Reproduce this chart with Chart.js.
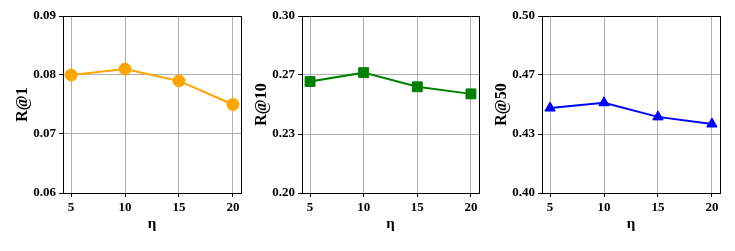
<!DOCTYPE html>
<html>
<head>
<meta charset="utf-8">
<script src="https://cdn.jsdelivr.net/npm/chart.js@4"></script>
<style>
	body { margin: 0; background: #ffffff; }
	#wrap { position: relative; width: 735px; height: 251px; }
	canvas { position: absolute; top: 0; }
</style>
</head>
<body>
<div id="wrap">
	<canvas id="chartR1" width="248" height="251" style="left: 0px;"></canvas>
	<canvas id="chartR10" width="248" height="251" style="left: 239px;"></canvas>
	<canvas id="chartR50" width="248" height="251" style="left: 479px;"></canvas>
</div>
<script>
"use strict";

// values
const etaValues = [5, 10, 15, 20];
const r1Values = [0.080, 0.081, 0.079, 0.075];
const r10Values = [0.263, 0.268, 0.260, 0.256];
const r50Values = [0.448, 0.451, 0.443, 0.439];

// y ticks (4 evenly spaced, labels rounded to 2 decimals)
const r1Ticks = [0.06, 0.07, 0.08, 0.09];
const r10Ticks = [0.20, 0.23333, 0.26667, 0.30];
const r50Ticks = [0.40, 0.43333, 0.46667, 0.50];

const FONT = "'Liberation Serif', 'Times New Roman', serif";

// draws the black box around the plot area like matplotlib spines
const frame = {
	id: "frame",
	afterDraw(chart) {
		const a = chart.chartArea;
		const ctx = chart.ctx;
		ctx.save();
		ctx.strokeStyle = "#000000";
		ctx.lineWidth = 1;
		ctx.strokeRect(Math.round(a.left) + 0.5, Math.round(a.top) + 0.5, Math.round(a.right - a.left), Math.round(a.bottom - a.top));
		ctx.restore();
	},
};

function makeChart(id, values, yTicks, yLabel, color, marker, radius) {
	const ctx = document.getElementById(id);

	new Chart(ctx, {
		type: "line",
		data: {
			datasets: [
				{
					data: etaValues.map(function (x, i) {
						return { x: x, y: values[i] };
					}),
					borderColor: color,
					backgroundColor: color,
					borderWidth: 2,
					pointStyle: marker,
					pointRadius: radius,
					pointBorderWidth: 1,
				},
			],
		},
		options: {
			responsive: false,
			animation: false,
			layout: { padding: { top: 16, right: 1, left: 0, bottom: 0 } },
			plugins: { legend: { display: false }, tooltip: { enabled: false } },
			scales: {
				x: {
					type: "linear",
					min: 4.25,
					max: 20.75,
					afterBuildTicks(scale) {
						scale.ticks = etaValues.map(function (v) { return { value: v }; });
					},
					afterFit(scale) {
						scale.height = 58;
						scale.paddingLeft = 0;
						scale.paddingRight = 0;
					},
					grid: { color: "#b0b0b0", lineWidth: 1, tickColor: "#000000", tickLength: 4 },
					border: { color: "#000000", width: 1 },
					ticks: { color: "#000000", padding: 3, font: { family: FONT, size: 13, weight: "bold" } },
					title: { display: true, text: "η", color: "#000000", padding: { top: 0, bottom: 18 }, font: { family: FONT, size: 15, weight: "bold" } },
				},
				y: {
					min: yTicks[0],
					max: yTicks[yTicks.length - 1],
					afterBuildTicks(scale) {
						scale.ticks = yTicks.map(function (v) { return { value: v }; });
					},
					afterFit(scale) {
						scale.width = 63;
						scale.paddingTop = 0;
						scale.paddingBottom = 0;
					},
					grid: { color: "#b0b0b0", lineWidth: 1, tickColor: "#000000", tickLength: 4 },
					border: { color: "#000000", width: 1 },
					ticks: {
						color: "#000000",
						padding: 3,
						font: { family: FONT, size: 13, weight: "bold" },
						callback: function (value) { return value.toFixed(2); },
					},
					title: { display: true, text: yLabel, color: "#000000", padding: { top: 13, bottom: 0 }, font: { family: FONT, size: 16, weight: "bold" } },
				},
			},
		},
		plugins: [frame],
	});
}

makeChart("chartR1", r1Values, r1Ticks, "R@1", "#ffa500", "circle", 6);
makeChart("chartR10", r10Values, r10Ticks, "R@10", "#008000", "rect", 7);
makeChart("chartR50", r50Values, r50Ticks, "R@50", "#0000ff", "triangle", 6);
</script>
</body>
</html>
